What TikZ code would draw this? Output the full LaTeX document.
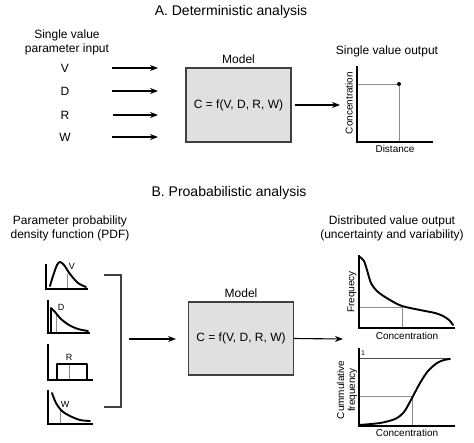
\documentclass[tikz,border=0pt]{standalone}
\usepackage{fontspec}
\setmainfont{Liberation Sans}
\usetikzlibrary{arrows.meta,positioning}

\tikzset{
  arr/.style={-{Stealth[length=8pt,width=6pt]},line width=1.1pt},
  modelbox/.style={draw=black!75,line width=1.1pt,fill=black!12,minimum width=105pt,minimum height=73pt,font=\fontsize{12}{14}\selectfont},
  axis/.style={line width=1.1pt},
  guide/.style={draw=black!45,line width=0.7pt},
  curve/.style={line width=1.9pt,line join=round,line cap=round},
  lbl/.style={font=\fontsize{12}{14}\selectfont,align=center},
  ttl/.style={font=\fontsize{14}{16}\selectfont},
  axlbl/.style={font=\fontsize{10}{11}\selectfont,align=center},
  tiny/.style={font=\fontsize{9}{10}\selectfont,inner sep=0pt},
}

\begin{document}
\begin{tikzpicture}[x=1pt,y=-1pt]
\useasboundingbox (0,0) rectangle (474,442);

% A. deterministic
\node[ttl] (titleA) at (231,12) {A. Deterministic analysis};
\node[lbl] (inA) at (67,42) {Single value\\parameter input};
\node[lbl] (V) at (65,68) {V};
\node[lbl] (D) at (65,91) {D};
\node[lbl] (R) at (65,115) {R};
\node[lbl] (W) at (65,137) {W};
\coordinate (v1) at (112,68);  \coordinate (v2) at (158,68);
\coordinate (d1) at (112,91);  \coordinate (d2) at (158,91);
\coordinate (r1) at (113,115); \coordinate (r2) at (158,115);
\coordinate (w1) at (112,137); \coordinate (w2) at (158,137);
\draw[arr] (v1) -- (v2);
\draw[arr] (d1) -- (d2);
\draw[arr] (r1) -- (r2);
\draw[arr] (w1) -- (w2);

\node[modelbox,minimum height=74pt] (modelA) at (238.5,105) {C = f(V, D, R, W)};
\node[lbl,above=0pt of modelA] (mlblA) {Model};
\coordinate (outA) at (340,105);
\draw[arr] ([xshift=3pt]modelA.east) -- (outA);

\node[lbl] (resA) at (387,51) {Single value output};
\coordinate (oA) at (357,142);
\coordinate (pA) at (399,84);
\draw[guide] (oA |- pA) -- (pA) -- (pA |- oA);
\draw[axis] (357,66) -- (oA) -- (433,142);
\fill (pA) circle (2pt);
\node[axlbl,rotate=90] (concA) at (349,103) {Concentration};
\node[axlbl] (distA) at (395,149) {Distance};

% B. probabilistic
\node[ttl] (titleB) at (229,193) {B. Proababilistic analysis};
\node[lbl] (inB) at (70,228) {Parameter probability\\density function (PDF)};
\node[lbl] (resB) at (392,228) {Distributed value output\\(uncertainty and variability)};

% pdf V
\draw[guide] (67,274) -- (67,289);
\draw[axis] (46,264) -- (46,289) -- (88,289);
\draw[curve] plot[smooth] coordinates {(50,286) (53,276) (57,265) (60,262) (64,265) (70,274) (78,283) (86,287)};
\node[tiny] (pV) at (72,266) {V};
% pdf D
\draw[guide] (56,315) -- (56,333);
\draw[axis] (48,300) -- (48,333) -- (90,333);
\draw[curve] (51,333) -- (51,308) plot[smooth] coordinates {(51,308) (55,312) (61,319) (69,325) (78,329) (88,331)};
\node[tiny] (pD) at (61,307) {D};
% pdf R
\draw[guide] (69,364) -- (69,380);
\draw[axis] (48,344) -- (48,380) -- (93,380);
\draw[curve,line cap=butt] (57,380) -- (57,364) -- (87,364) -- (87,380);
\node[tiny] (pR) at (69,357) {R};
% pdf W
\draw[guide] (60,409) -- (60,424);
\draw[axis] (48,390) -- (48,424) -- (93,424);
\draw[curve] plot[smooth] coordinates {(52,393) (56,403) (62,411) (70,416) (80,420) (90,421)};
\node[tiny] (pW) at (65,404) {W};

\draw[line width=1.1pt,black!75] (104,275) -- (121,275) -- (121,407) -- (104,407);
\coordinate (brk) at (129,339);
\coordinate (mB) at (176,339);
\draw[arr] (brk) -- (mB);

\node[modelbox] (modelB) at (241,338.5) {C = f(V, D, R, W)};
\node[lbl,above=0pt of modelB] (mlblB) {Model};
\coordinate (outB) at (343,339);
\draw[arr] (modelB.east) -- (outB);

% frequency
\draw[guide] (359,307) -- (402,307) -- (402,328);
\draw[axis] (359,255) -- (359,328) -- (455,328);
\draw[curve] plot[smooth] coordinates {(360,257) (364,261) (367,270) (371,283) (378,292) (390,300) (402,306) (420,310) (435,313) (443,316) (449,320) (453,325)};
\node[axlbl,rotate=90] (freq) at (352,292) {Frequecy};
\node[axlbl] (concB1) at (407,336) {Concentration};

% cumulative
\draw[black!70,line width=0.7pt] (359,358) -- (450,358);
\draw[guide] (359,396) -- (412,396) -- (412,426);
\draw[axis] (359,348) -- (359,426) -- (455,426);
\draw[curve] plot[smooth] coordinates {(359,425) (380,423) (395,419) (404,412) (412,398) (420,383) (428,371) (437,363) (444,360) (450,359)};
\node[tiny,font=\fontsize{7}{8}\selectfont] (one) at (363,353) {1};
\node[axlbl,rotate=90] (cum) at (347,390) {Cummulative\\frequency};
\node[axlbl] (concB2) at (407,433) {Concentration};
\end{tikzpicture}
\end{document}
